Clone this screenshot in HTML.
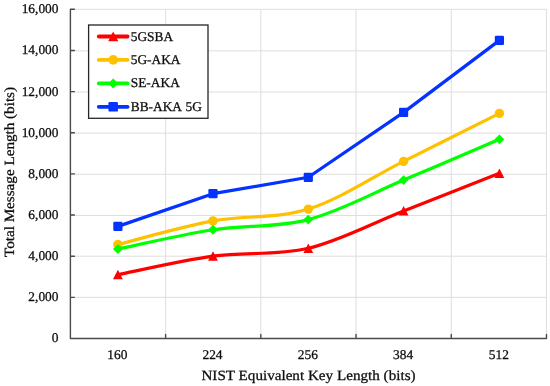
<!DOCTYPE html><html><head><meta charset="utf-8"><title>chart</title><style>html,body{margin:0;padding:0;background:#fff}svg{display:block;filter:blur(0.3px)}</style></head><body><svg width="550" height="386" viewBox="0 0 550 386" font-family="'Liberation Serif', serif">
<rect width="550" height="386" fill="#fff"/>
<path d="M70.40 297.35H546.50M70.40 256.20H546.50M70.40 215.45H546.50M70.40 174.30H546.50M70.40 133.15H546.50M70.40 92.00H546.50M70.40 50.85H546.50M70.40 9.30H546.50M165.62 9.30V338.50M260.84 9.30V338.50M356.06 9.30V338.50M451.28 9.30V338.50M546.50 9.30V338.50" stroke="#dedede" stroke-width="1" fill="none"/>
<path d="M70.40 9.30V338.50H546.50M70.40 338.50h4M70.40 297.35h4M70.40 256.20h4M70.40 215.05h4M70.40 173.90h4M70.40 132.75h4M70.40 91.60h4M70.40 50.45h4M70.40 9.30h4M70.40 338.50v-4M165.62 338.50v-4M260.84 338.50v-4M356.06 338.50v-4M451.28 338.50v-4M546.50 338.50v-4" stroke="#4a4a4a" stroke-width="1.4" stroke-linejoin="round" stroke-linecap="round" fill="none"/>
<text transform="translate(58.50 342.40) scale(1 1.000)" font-size="13.4" text-anchor="end" text-rendering="geometricPrecision" fill="#0d0d0d" stroke="#0d0d0d" stroke-width="0.28">0</text>
<text transform="translate(58.50 301.25) scale(1 1.000)" font-size="13.4" text-anchor="end" text-rendering="geometricPrecision" fill="#0d0d0d" stroke="#0d0d0d" stroke-width="0.28">2,000</text>
<text transform="translate(58.50 260.10) scale(1 1.000)" font-size="13.4" text-anchor="end" text-rendering="geometricPrecision" fill="#0d0d0d" stroke="#0d0d0d" stroke-width="0.28">4,000</text>
<text transform="translate(58.50 218.95) scale(1 1.000)" font-size="13.4" text-anchor="end" text-rendering="geometricPrecision" fill="#0d0d0d" stroke="#0d0d0d" stroke-width="0.28">6,000</text>
<text transform="translate(58.50 177.80) scale(1 1.000)" font-size="13.4" text-anchor="end" text-rendering="geometricPrecision" fill="#0d0d0d" stroke="#0d0d0d" stroke-width="0.28">8,000</text>
<text transform="translate(58.50 136.65) scale(1 1.000)" font-size="13.4" text-anchor="end" text-rendering="geometricPrecision" fill="#0d0d0d" stroke="#0d0d0d" stroke-width="0.28">10,000</text>
<text transform="translate(58.50 95.50) scale(1 1.000)" font-size="13.4" text-anchor="end" text-rendering="geometricPrecision" fill="#0d0d0d" stroke="#0d0d0d" stroke-width="0.28">12,000</text>
<text transform="translate(58.50 54.35) scale(1 1.000)" font-size="13.4" text-anchor="end" text-rendering="geometricPrecision" fill="#0d0d0d" stroke="#0d0d0d" stroke-width="0.28">14,000</text>
<text transform="translate(58.50 13.20) scale(1 1.000)" font-size="13.4" text-anchor="end" text-rendering="geometricPrecision" fill="#0d0d0d" stroke="#0d0d0d" stroke-width="0.28">16,000</text>
<text transform="translate(117.40 359.20) scale(1 1.000)" font-size="13.4" text-anchor="middle" text-rendering="geometricPrecision" fill="#0d0d0d" stroke="#0d0d0d" stroke-width="0.28">160</text>
<text transform="translate(212.50 359.20) scale(1 1.000)" font-size="13.4" text-anchor="middle" text-rendering="geometricPrecision" fill="#0d0d0d" stroke="#0d0d0d" stroke-width="0.28">224</text>
<text transform="translate(307.80 359.20) scale(1 1.000)" font-size="13.4" text-anchor="middle" text-rendering="geometricPrecision" fill="#0d0d0d" stroke="#0d0d0d" stroke-width="0.28">256</text>
<text transform="translate(403.10 359.20) scale(1 1.000)" font-size="13.4" text-anchor="middle" text-rendering="geometricPrecision" fill="#0d0d0d" stroke="#0d0d0d" stroke-width="0.28">384</text>
<text transform="translate(498.90 359.20) scale(1 1.000)" font-size="13.4" text-anchor="middle" text-rendering="geometricPrecision" fill="#0d0d0d" stroke="#0d0d0d" stroke-width="0.28">512</text>
<text transform="translate(201.40 379.80) scale(1 0.930)" font-size="15.15" text-anchor="start" text-rendering="geometricPrecision" fill="#0d0d0d" stroke="#0d0d0d" stroke-width="0.28">NIST Equivalent Key Length (bits)</text>
<text transform="translate(13.9 172) rotate(-90) scale(1 0.93)" font-size="15.15" text-anchor="middle" text-rendering="geometricPrecision" fill="#0d0d0d" stroke="#0d0d0d" stroke-width="0.3">Total Message Length (bits)</text>
<path d="M117.90 274.72 C133.75 271.63 181.27 260.61 213.00 256.20 C244.73 251.79 276.53 255.82 308.30 248.28 C340.07 240.73 371.75 223.43 403.60 210.94 C435.45 198.44 483.43 179.56 499.40 173.28" stroke="#ff0000" stroke-width="3.2" fill="none" stroke-linecap="round" stroke-linejoin="round"/>
<path d="M117.90 269.82L122.80 279.32L113.00 279.32Z" fill="#ff0000"/>
<path d="M213.00 251.30L217.90 260.80L208.10 260.80Z" fill="#ff0000"/>
<path d="M308.30 243.38L313.20 252.88L303.40 252.88Z" fill="#ff0000"/>
<path d="M403.60 206.03L408.50 215.53L398.70 215.53Z" fill="#ff0000"/>
<path d="M499.40 168.38L504.30 177.88L494.50 177.88Z" fill="#ff0000"/>
<path d="M117.90 244.47 C133.75 240.55 181.27 226.81 213.00 220.91 C244.73 215.02 276.53 219.01 308.30 209.08 C340.07 199.16 371.75 177.29 403.60 161.35 C435.45 145.40 483.43 121.40 499.40 113.41" stroke="#ffc000" stroke-width="3.2" fill="none" stroke-linecap="round" stroke-linejoin="round"/>
<circle cx="117.90" cy="244.47" r="4.70" fill="#ffc000"/>
<circle cx="213.00" cy="220.91" r="4.70" fill="#ffc000"/>
<circle cx="308.30" cy="209.08" r="4.70" fill="#ffc000"/>
<circle cx="403.60" cy="161.35" r="4.70" fill="#ffc000"/>
<circle cx="499.40" cy="113.41" r="4.70" fill="#ffc000"/>
<path d="M117.90 249.00 C133.75 245.79 181.27 234.66 213.00 229.76 C244.73 224.86 276.53 227.86 308.30 219.58 C340.07 211.30 371.75 193.45 403.60 180.07 C435.45 166.70 483.43 146.12 499.40 139.33" stroke="#00ff00" stroke-width="3.2" fill="none" stroke-linecap="round" stroke-linejoin="round"/>
<path d="M117.90 244.10L122.80 249.00L117.90 253.90L113.00 249.00Z" fill="#00ff00"/>
<path d="M213.00 224.86L217.90 229.76L213.00 234.66L208.10 229.76Z" fill="#00ff00"/>
<path d="M308.30 214.68L313.20 219.58L308.30 224.48L303.40 219.58Z" fill="#00ff00"/>
<path d="M403.60 175.17L408.50 180.07L403.60 184.97L398.70 180.07Z" fill="#00ff00"/>
<path d="M499.40 134.43L504.30 139.33L499.40 144.23L494.50 139.33Z" fill="#00ff00"/>
<path d="M117.90 226.37 L213.00 193.65 L308.30 177.29 L403.60 112.38 L499.40 40.37" stroke="#0432ff" stroke-width="3.2" fill="none" stroke-linecap="round" stroke-linejoin="round"/>
<rect x="113.30" y="221.77" width="9.20" height="9.20" rx="1.2" fill="#0432ff"/>
<rect x="208.40" y="189.05" width="9.20" height="9.20" rx="1.2" fill="#0432ff"/>
<rect x="303.70" y="172.69" width="9.20" height="9.20" rx="1.2" fill="#0432ff"/>
<rect x="399.00" y="107.78" width="9.20" height="9.20" rx="1.2" fill="#0432ff"/>
<rect x="494.80" y="35.77" width="9.20" height="9.20" rx="1.2" fill="#0432ff"/>
<rect x="88.6" y="25" width="119.4" height="93.3" fill="#fff" stroke="#262626" stroke-width="1.3"/>
<path d="M98.8 36.50H127.6" stroke="#ff0000" stroke-width="3.8" stroke-linecap="round"/>
<path d="M113.20 31.45L118.25 41.25L108.15 41.25Z" fill="#ff0000"/>
<text transform="translate(130.70 41.00) scale(1 1.000)" font-size="13.4" text-anchor="start" text-rendering="geometricPrecision" fill="#0d0d0d" stroke="#0d0d0d" stroke-width="0.28" word-spacing="0.9">5GSBA</text>
<path d="M98.8 59.90H127.6" stroke="#ffc000" stroke-width="3.8" stroke-linecap="round"/>
<circle cx="113.20" cy="59.90" r="4.85" fill="#ffc000"/>
<text transform="translate(130.70 64.00) scale(1 1.000)" font-size="13.4" text-anchor="start" text-rendering="geometricPrecision" fill="#0d0d0d" stroke="#0d0d0d" stroke-width="0.28" word-spacing="0.9">5G-AKA</text>
<path d="M98.8 83.45H127.6" stroke="#00ff00" stroke-width="3.8" stroke-linecap="round"/>
<path d="M113.20 78.40L118.25 83.45L113.20 88.50L108.15 83.45Z" fill="#00ff00"/>
<text transform="translate(130.70 87.40) scale(1 1.000)" font-size="13.4" text-anchor="start" text-rendering="geometricPrecision" fill="#0d0d0d" stroke="#0d0d0d" stroke-width="0.28" word-spacing="0.9">SE-AKA</text>
<path d="M98.8 106.85H127.6" stroke="#0432ff" stroke-width="3.8" stroke-linecap="round"/>
<rect x="108.45" y="102.10" width="9.50" height="9.50" rx="1.2" fill="#0432ff"/>
<text transform="translate(130.70 110.60) scale(1 1.000)" font-size="13.4" text-anchor="start" text-rendering="geometricPrecision" fill="#0d0d0d" stroke="#0d0d0d" stroke-width="0.28" word-spacing="0.9">BB-AKA 5G</text>
</svg></body></html>
